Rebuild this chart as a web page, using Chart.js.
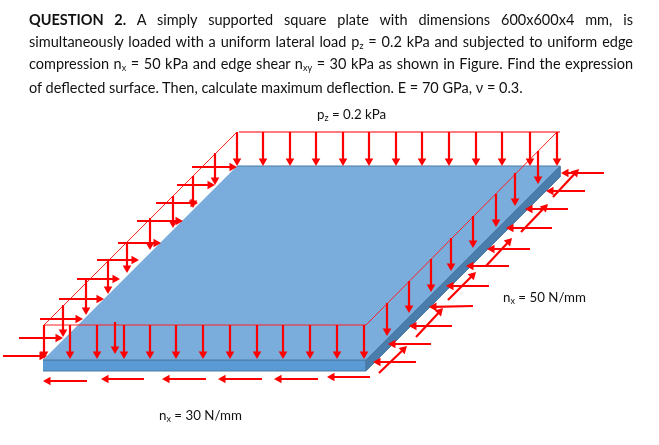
<!DOCTYPE html>
<html>
<head>
<meta charset="utf-8">
<title>Question 2</title>
<script src="https://cdn.jsdelivr.net/npm/chart.js@4"></script>
<style>
html, body { margin: 0; padding: 0; background: #fff; }
body { width: 659px; height: 445px; position: relative; overflow: hidden; font-family: Lato, "Open Sans", sans-serif; color: #111; }
canvas { position: absolute; left: 0; top: 0; }
.linea { position: absolute; left: 29px; width: 604px; font-size: 14.5px; line-height: 20px; white-space: nowrap; text-align: justify; text-align-last: justify; }
.linea.fin { text-align-last: left; }
.etiqueta { position: absolute; font-size: 13.3px; line-height: 18px; white-space: nowrap; }
sub { font-size: 9px; line-height: 0; vertical-align: -2px; }
</style>
</head>
<body>
<canvas id="plate" width="659" height="445"></canvas>
<div class="linea" style="top:10px"><b>QUESTION 2.</b> A simply supported square plate with dimensions 600x600x4 mm, is</div>
<div class="linea" style="top:32px">simultaneously loaded with a uniform lateral load p<sub>z</sub> = 0.2 kPa and  subjected to uniform edge</div>
<div class="linea" style="top:54px">compression n<sub>x</sub> = 50 kPa and edge shear n<sub>xy</sub> = 30 kPa as shown in Figure. Find the expression</div>
<div class="linea fin" style="top:78px">of deflected surface. Then, calculate maximum deflection. E = 70 GPa, ν = 0.3.</div>
<div class="etiqueta" style="left:317px;top:105px">p<sub>z</sub> = 0.2 kPa</div>
<div class="etiqueta" style="left:503px;top:288px">n<sub>x</sub> = 50 N/mm</div>
<div class="etiqueta" style="left:159px;top:406px">n<sub>x</sub> = 30 N/mm</div>
<script>
// Contornos de la placa (x, y de la figura)
const plateTop = [[237,166],[560,166],[366,360],[43,360]];
const plateFront = [[43,360],[366,360],[366,371],[43,371]];
const plateSide = [[366,360],[560,166],[560,177],[366,371]];

// Contorno de la carga lateral
const loadBack = [[239,132],[560,132]];
const loadFront = [[44,325],[366,325]];
const loadLeft = [[237,132],[44,325]];
const loadRight = [[557,132],[366,325]];

// Flechas: x inicial, y inicial, x final, y final
const topRowX = [237,263,290,316,343,369,396,422,449,476,502,530,557];
const frontRowX = [44,70,97,124,150,176,203,230,257,283,310,337,364];
const leftLoad = [[215,153,215,185],[193,176,193,208],[173,196,173,228],[150,218,150,250],[127,242,127,273],[108,260,108,294],[86,280,86,315],[63,305,63,337],[115,322,115,354]];
const rightLoad = [[538,151,538,184],[515,173,515,206],[496,194,496,227],[473,216,473,248],[451,238,451,271],[431,259,431,292],[409,281,409,313],[387,303,387,336]];
const leftPush = [[192,167,237,167],[177,185,215,185],[156,203,198,203],[137,221,183,221],[118,243,161,243],[97,260,139,260],[77,279,120,279],[59,299,104,299],[40,319,83,319],[19,338,63,338],[3,356,47,356]];
const rightPush = [[604,173,561,173],[585,191,546,191],[568,209,525,209],[552,228,506,228],[530,249,487,249],[509,266,466,266],[489,286,446,286],[473,306,429,307],[452,326,409,326],[431,344,388,344],[416,362,373,362]];
const shear = [[553,197,579,169],[521,232,548,204],[486,266,512,238],[448,300,476,272],[416,337,443,308],[379,373,407,346]];
const frontPush = [[87,381,43,381],[144,379,101,379],[206,379,162,379],[262,379,218,379],[318,379,274,379],[370,377,327,377]];

const toPoints = rows => rows.map(p => ({ x: p[0], y: p[1] }));

function polygon(rows, color) {
    return { data: toPoints(rows), showLine: true, fill: 'shape', backgroundColor: color, borderColor: '#4a7ba6', borderWidth: 1, pointRadius: 0 };
}

function outline(rows, color, width) {
    return { data: toPoints(rows), showLine: true, borderColor: color, borderWidth: width, pointRadius: 0 };
}

// La punta queda en el extremo, el triángulo se centra un poco antes
function arrow(row) {
    const headSize = 5;
    const dx = row[2] - row[0], dy = row[3] - row[1];
    const len = Math.hypot(dx, dy);
    const head = { x: row[2] - dx / len * headSize, y: row[3] - dy / len * headSize };
    return {
        data: [{ x: row[0], y: row[1] }, head],
        showLine: true,
        borderColor: '#ff0000',
        borderWidth: 2.2,
        pointStyle: 'triangle',
        pointRadius: [0, headSize],
        pointBackgroundColor: '#ff0000',
        pointBorderColor: '#ff0000',
        pointBorderWidth: 0,
        pointRotation: [0, Math.atan2(dx, -dy) * 180 / Math.PI]
    };
}

const allArrows = [
    ...topRowX.map(x => [x, 132, x, 166]),
    ...frontRowX.map(x => [x, 325, x, 359]),
    ...leftLoad, ...rightLoad, ...leftPush, ...rightPush, ...shear, ...frontPush
];

// El primer dataset se dibuja encima
new Chart(document.getElementById('plate'), {
    type: 'scatter',
    data: {
        datasets: [
            ...allArrows.map(arrow),
            outline(loadLeft, '#ff2020', 1),
            outline(loadRight, '#ff2020', 1),
            outline(loadFront, '#ff2020', 1),
            outline(loadBack, '#ff7a80', 2),
            polygon(plateTop, '#7aacdc'),
            polygon(plateFront, '#5b9bd5'),
            polygon(plateSide, '#4a7dab')
        ]
    },
    options: {
        responsive: false,
        animation: false,
        clip: false,
        layout: { padding: 0, autoPadding: false },
        plugins: { legend: { display: false }, tooltip: { enabled: false } },
        scales: {
            x: { type: 'linear', display: false, min: 0, max: 659 },
            y: { type: 'linear', display: false, min: 0, max: 445, reverse: true }
        }
    }
});
</script>
</body>
</html>
